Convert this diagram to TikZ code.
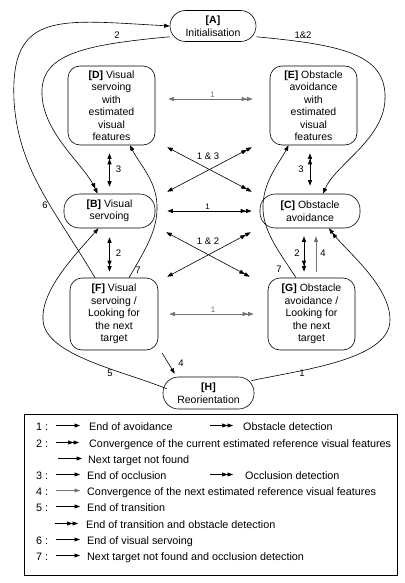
\documentclass[tikz,border=0pt]{standalone}
\usepackage{fontspec}
\setmainfont{Liberation Sans}
\usetikzlibrary{arrows.meta, positioning, calc}

\begin{document}
\begin{tikzpicture}[x=1pt, y=-1pt,
    tri/.tip={Triangle[length=5.5pt, width=4pt]},
    ditri/.tip={Triangle[length=5.5pt, width=4pt] Triangle[length=5.5pt, width=4pt]},
    statebox/.style={draw, semithick, rounded corners=12pt, minimum width=87pt, inner sep=1pt, align=center, font=\fontsize{10.5}{12.5}\selectfont},
    pillbox/.style={draw, semithick, rounded corners=15.5pt, minimum height=33pt, inner sep=1pt, align=center, font=\fontsize{10.5}{12.5}\selectfont},
    lbl/.style={inner sep=0pt, font=\fontsize{9.5}{10}\selectfont},
    smalllbl/.style={inner sep=0pt, font=\fontsize{8}{9}\selectfont},
    legtext/.style={anchor=west, inner sep=0pt, text height=7.5pt, text depth=2pt, font=\fontsize{10.8}{12}\selectfont},
    link/.style={line width=0.6pt},
    bilink/.style={line width=0.9pt},
    ]
    \useasboundingbox (0,0) rectangle (404,583);

    % states
    \node[pillbox, minimum width=86pt, minimum height=31pt] (A) at (213,26) {\textbf{[A]}\\Initialisation};
    \node[statebox, minimum height=79pt] (D) at (111.5,105.5) {\textbf{[D]} Visual\\servoing\\with\\estimated\\visual\\features};
    \node[statebox, minimum height=79pt] (E) at (313.5,105.5) {\textbf{[E]} Obstacle\\avoidance\\with\\estimated\\visual\\features};
    \node[pillbox, minimum width=91pt, minimum height=34pt] (B) at (109.5,211) {\textbf{[B]} Visual\\servoing};
    \node[pillbox, minimum width=100pt, minimum height=34pt] (C) at (310,211) {\textbf{[C]} Obstacle\\avoidance};
    \node[statebox, minimum width=88pt, minimum height=72pt] (F) at (114,314) {\textbf{[F]} Visual\\servoing /\\Looking for\\the next\\target};
    \node[statebox, minimum height=72pt] (G) at (311.5,314) {\textbf{[G]} Obstacle\\avoidance /\\Looking for\\the next\\target};
    \node[pillbox, minimum width=91pt, minimum height=32pt] (H) at (208.5,393) {\textbf{[H]}\\Reorientation};

    % horizontal links
    \draw[link, black!55, {tri}-{ditri}, shorten <=13pt, shorten >=17pt] ([yshift=6.5pt]D.east) -- ([yshift=6.5pt]E.west) node[midway, above=1.5pt, smalllbl] {1};
    \draw[bilink, {tri}-{ditri}, shorten <=12pt, shorten >=8pt] (B.east) -- (C.west) node[midway, above=1.5pt, smalllbl] {1};
    \draw[link, black!55, {tri}-{ditri}, shorten <=11pt, shorten >=14pt] (F.east) -- (G.west) node[midway, above=1.5pt, smalllbl] {1};

    % crossing links
    \draw[link, {tri}-{ditri}] ([xshift=12pt,yshift=-2pt]D.south east) -- ([xshift=-8pt,yshift=2pt]C.north west);
    \draw[link, {ditri}-{tri}] ([xshift=-18pt,yshift=-2pt]E.south west) -- ([xshift=12pt,yshift=2pt]B.north east);
    \node[lbl] (x13) at (208,156) {1 \& 3};
    \draw[link, {tri}-{ditri}] ([xshift=11pt,yshift=-4pt]B.south east) -- ([xshift=-18pt,yshift=1pt]G.north west);
    \draw[link, {ditri}-{tri}] ([xshift=-9pt,yshift=-4pt]C.south west) -- ([xshift=9pt,yshift=1pt]F.north east);
    \node[lbl] (x12) at (208,241) {1 \& 2};

    % vertical links
    \draw[bilink, {ditri}-{tri}, shorten <=8pt, shorten >=7pt] (D.south -| B.north) -- (B.north) node[midway, right=6pt, lbl] {3};
    \draw[bilink, {ditri}-{tri}, shorten <=8pt, shorten >=8pt] (E.south -| C.north) -- (C.north) node[midway, left=6pt, lbl] {3};
    \draw[bilink, {tri}-{ditri}, shorten <=9pt, shorten >=6pt] (B.south) -- (B.south |- F.north) node[midway, right=6pt, lbl] {2};
    \draw[bilink, {tri}-{ditri}, shorten <=8pt, shorten >=6pt] ([xshift=-6pt]C.south) -- ([xshift=-6pt]C.south |- G.north) node[midway, left=4pt, lbl] {2};
    \draw[link, black!55, -{tri}, shorten <=6pt, shorten >=8pt] ([xshift=6pt]C.south |- G.north) -- ([xshift=6pt]C.south) node[midway, right=4pt, lbl, black] {4};

    % outer curves
    \draw[link, -{tri}] ([xshift=-19pt]F.north) .. controls (55,210) and (18,170) .. (14,100) .. controls (10,10) and (60,20) .. (A.west);
    \node[lbl] (l6) at (45,205) {6};
    \draw[link, -{ditri}] ([yshift=5pt]A.south west) .. controls (80,45) and (40,55) .. (42,95) .. controls (44,135) and (85,165) .. ([xshift=-12pt]B.north);
    \node[lbl] (l2) at (117,35) {2};
    \draw[link, -{tri}] ([yshift=5pt]A.south east) .. controls (345,45) and (387,55) .. (385,100) .. controls (383,140) and (335,165) .. ([xshift=13pt]C.north);
    \node[lbl] (l12) at (303,35) {1\&2};

    % inner curves
    \draw[link, -{tri}] ([xshift=15pt]F.north) .. controls (145,250) and (158,230) .. (157,205) .. controls (156,180) and (140,165) .. ([xshift=18.5pt]D.south);
    \node[lbl] (l7a) at (138,270) {7};
    \draw[link, -{tri}] ([xshift=-15.5pt]G.north) .. controls (278,250) and (262,230) .. (263,205) .. controls (264,180) and (280,162) .. ([xshift=-25pt]E.south);
    \node[lbl] (l7b) at (279,269) {7};

    % from and to reorientation
    \draw[link, -{tri}] ([xshift=4pt,yshift=-12pt]H.north west) .. controls (120,370) and (45,355) .. (43,320) .. controls (41,290) and (75,255) .. ([xshift=-11pt]B.south);
    \node[lbl] (l5) at (110,373) {5};
    \draw[link, -{ditri}] ([xshift=-3pt,yshift=-4pt]H.north east) .. controls (300,370) and (390,360) .. (390,320) .. controls (390,285) and (345,250) .. ([xshift=19pt]C.south);
    \node[lbl] (l1) at (302,373) {1};
    \draw[link, -{tri}] ([xshift=4pt,yshift=-3pt]F.south east) -- ([xshift=12pt,yshift=3pt]H.north west);
    \node[lbl] (l4) at (181,363) {4};

    % legend
    \node[draw, line width=0.7pt, minimum width=373pt, minimum height=161pt, inner sep=0pt] (legend) at (210.5,494.5) {};

    \node[legtext] (n1) at (36,428) {1 :};
    \node[legtext] (t1a) at (89,428) {End of avoidance};
    \node[legtext] (t1b) at (243,428) {Obstacle detection};
    \node[legtext] (n2) at (36,445) {2 :};
    \node[legtext] (t2a) at (89,445) {Convergence of the current estimated reference visual features};
    \node[legtext] (t2b) at (88,461) {Next target not found};
    \node[legtext] (n3) at (36,477) {3 :};
    \node[legtext] (t3a) at (87,477) {End of occlusion};
    \node[legtext] (t3b) at (245,477) {Occlusion detection};
    \node[legtext] (n4) at (36,493) {4 :};
    \node[legtext] (t4) at (87,493) {Convergence of the next estimated reference visual features};
    \node[legtext] (n5) at (36,509) {5 :};
    \node[legtext] (t5a) at (87,509) {End of transition};
    \node[legtext] (t5b) at (86,526) {End of transition and obstacle detection};
    \node[legtext] (n6) at (36,542) {6 :};
    \node[legtext] (t6) at (87,542) {End of visual servoing};
    \node[legtext] (n7) at (36,558) {7 :};
    \node[legtext] (t7) at (87,558) {Next target not found and occlusion detection};

    \draw[link, -{tri}] ([xshift=-33pt,yshift=2.5pt]t1a.west) -- ([xshift=-9pt,yshift=2.5pt]t1a.west);
    \draw[link, -{ditri}] ([xshift=-33pt,yshift=2.5pt]t1b.west) -- ([xshift=-10pt,yshift=2.5pt]t1b.west);
    \draw[link, -{ditri}] ([xshift=-33pt,yshift=2.5pt]t2a.west) -- ([xshift=-10pt,yshift=2.5pt]t2a.west);
    \draw[link, -{tri}] ([xshift=-30pt,yshift=2.5pt]t2b.west) -- ([xshift=-6pt,yshift=2.5pt]t2b.west);
    \draw[link, -{tri}] ([xshift=-31pt,yshift=2.5pt]t3a.west) -- ([xshift=-7pt,yshift=2.5pt]t3a.west);
    \draw[link, -{ditri}] ([xshift=-35pt,yshift=2.5pt]t3b.west) -- ([xshift=-12pt,yshift=2.5pt]t3b.west);
    \draw[link, black!55, -{tri}] ([xshift=-31pt,yshift=2.5pt]t4.west) -- ([xshift=-7pt,yshift=2.5pt]t4.west);
    \draw[link, -{tri}] ([xshift=-31pt,yshift=2.5pt]t5a.west) -- ([xshift=-7pt,yshift=2.5pt]t5a.west);
    \draw[link, -{ditri}] ([xshift=-31pt,yshift=2.5pt]t5b.west) -- ([xshift=-8pt,yshift=2.5pt]t5b.west);
    \draw[link, -{tri}] ([xshift=-31pt,yshift=2.5pt]t6.west) -- ([xshift=-7pt,yshift=2.5pt]t6.west);
    \draw[link, -{tri}] ([xshift=-31pt,yshift=2.5pt]t7.west) -- ([xshift=-7pt,yshift=2.5pt]t7.west);
\end{tikzpicture}
\end{document}
